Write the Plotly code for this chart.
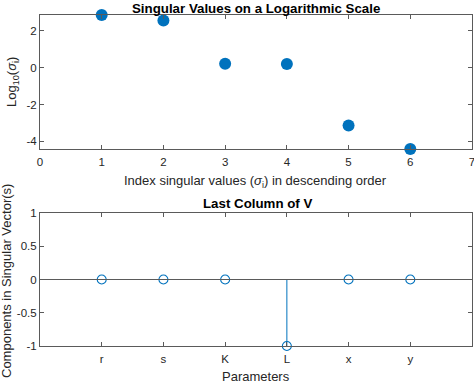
import plotly.graph_objects as go

# ---- data ----
sv_index = [1, 2, 3, 4, 5, 6]
log_sv = [2.87, 2.57, 0.22, 0.21, -3.14, -4.42]

param_pos = [1, 2, 3, 4, 5, 6]
param_labels = ["r", "s", "K", "L", "x", "y"]
last_col_v = [0.0, 0.0, 0.0, -1.0, 0.0, 0.0]

top_xticks = [0, 1, 2, 3, 4, 5, 6, 7]
top_yticks = [-4, -2, 0, 2]
bot_yticks = [-1, -0.5, 0, 0.5, 1]

BLUE = "#0072BD"
AX = "#5a5a5a"
TXT = "#262626"
FONT = "Liberation Sans, Arial, Helvetica, sans-serif"

W, H = 474, 381

fig = go.Figure()

# top: singular values
fig.add_trace(go.Scatter(
    x=sv_index, y=log_sv, mode="markers",
    marker=dict(size=12, color=BLUE, line=dict(width=0)),
    xaxis="x", yaxis="y", cliponaxis=False, showlegend=False))

# bottom: stem plot
sx, sy = [], []
for xv, yv in zip(param_pos, last_col_v):
    sx += [xv, xv, None]
    sy += [0, yv, None]
fig.add_trace(go.Scatter(
    x=sx, y=sy, mode="lines", line=dict(color=BLUE, width=1),
    xaxis="x2", yaxis="y2", showlegend=False))
fig.add_trace(go.Scatter(
    x=param_pos, y=last_col_v, mode="markers",
    marker=dict(size=9, symbol="circle-open", color=BLUE, line=dict(width=1.1, color=BLUE)),
    xaxis="x2", yaxis="y2", cliponaxis=False, showlegend=False))

def px_x(p):
    return p / W

def px_y(p):
    return 1 - p / H

def lab(v):
    return ("%g" % v).replace("−", "-")

axcommon = dict(showgrid=False, zeroline=False, showline=True, linecolor=AX, linewidth=1,
                mirror="ticks", ticks="inside", ticklen=4, tickcolor=AX, tickwidth=1,
                automargin=False, ticklabeloverflow="allow",
                tickfont=dict(size=11.5, color=TXT, family=FONT))

fig.update_layout(
    width=W, height=H, margin=dict(l=0, r=0, t=0, b=0, autoexpand=False),
    paper_bgcolor="white", plot_bgcolor="white",
    font=dict(family=FONT, color=TXT),
    xaxis=dict(domain=[px_x(40), px_x(472)], range=[0, 7], tickvals=top_xticks,
               ticktext=[lab(v) for v in top_xticks], anchor="y",
               ticklabelstandoff=2, **axcommon),
    yaxis=dict(domain=[px_y(149), px_y(15)], range=[min(log_sv), max(log_sv)],
               tickvals=top_yticks, ticktext=[lab(v) for v in top_yticks],
               anchor="x", **axcommon),
    xaxis2=dict(domain=[px_x(40), px_x(472)], range=[0, 7], tickvals=param_pos,
                ticktext=param_labels, anchor="y2", ticklabelstandoff=2, **axcommon),
    yaxis2=dict(domain=[px_y(346), px_y(213)], range=[-1, 1], tickvals=bot_yticks,
                ticktext=[lab(v) for v in bot_yticks], anchor="x2", **axcommon),
)

# baseline at zero for stem plot
fig.add_shape(type="line", xref="x2 domain", yref="y2", x0=0, x1=1, y0=0, y1=0,
              line=dict(color=AX, width=1))

ann = []
ann.append(dict(text="<b>Singular Values on a Logarithmic Scale</b>", x=px_x(256), y=px_y(8),
                font=dict(size=13.3, color="black")))
ann.append(dict(text="<b>Last Column of V</b>", x=px_x(257), y=px_y(203),
                font=dict(size=13.3, color="black")))
ann.append(dict(text="Index singular values (<i>σ</i><sub>i</sub>) in descending order", x=px_x(256),
                y=px_y(181), font=dict(size=13, color=TXT)))
ann.append(dict(text="Parameters", x=px_x(256), y=px_y(376), font=dict(size=13, color=TXT)))
ann.append(dict(text="Log<sub>10</sub>(<i>σ</i><sub>i</sub>)", x=px_x(12), y=px_y(82), textangle=-90,
                font=dict(size=13, color=TXT)))
ann.append(dict(text="Components in Singular Vector(s)", x=px_x(6), y=px_y(281), textangle=-90,
                font=dict(size=13, color=TXT)))
for a in ann:
    a.update(xref="paper", yref="paper", showarrow=False, xanchor="center", yanchor="middle")
fig.update_layout(annotations=ann)

fig.write_html("out.html", config={"displayModeBar": False},
               post_script="document.body.style.margin='0';document.body.style.padding='0';")
